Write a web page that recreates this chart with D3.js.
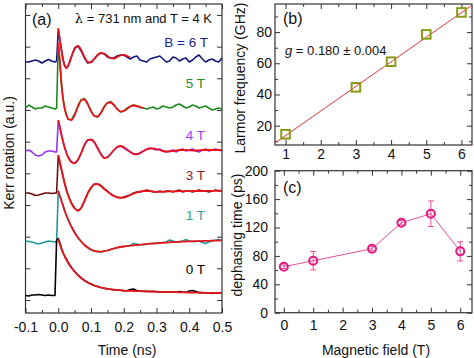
<!DOCTYPE html>
<html><head><meta charset="utf-8">
<script src="https://cdn.jsdelivr.net/npm/d3@7"></script>
<style>
body{margin:0;background:#fff}
text{font-family:"Liberation Sans",Arial,sans-serif;fill:#111}
</style>
</head><body>
<svg id="chart" width="474" height="358"></svg>
<script>
// ---------------- DATA ----------------
// Panel (a): time axis (ns) shared by all traces
const times = [-0.10,-0.09,-0.08,-0.07,-0.06,-0.05,-0.04,-0.03,-0.02,-0.01,-0.005,0,0.005,0.01,0.015,0.02,0.025,
  0.03,0.04,0.05,0.06,0.07,0.08,0.09,0.10,0.11,0.12,0.13,0.14,0.15,0.16,0.17,0.18,0.19,0.20,
  0.21,0.22,0.23,0.24,0.25,0.26,0.27,0.28,0.29,0.30,0.31,0.32,0.33,0.34,0.35,0.36,0.37,0.38,0.39,0.40,
  0.41,0.42,0.43,0.44,0.45,0.46,0.47,0.48,0.49,0.50];
const fitTimes = times.slice(11); // fits start at t = 0

const fieldLabels = ["B = 6 T","5 T","4 T","3 T","1 T","0 T"];

// Kerr rotation (a.u., traces offset vertically) measured data
const kerr6T = [238,238,239,240,239,237,239,240.5,239,238,239,270,260,250,240,234,232,
  234,243,252,254,249,242,237,238,241,245,247,246,243,242,242,244,245,245,243,241,243,244,240,239,238,
  241,242,243,244,241,238,239,243,242,239,241,242,238,240,243,245,241,238,240,241,239,238,242];
const kerr5T = [192,195,193,191,192,192,194,193,192,191,192,255,238,216,201,191,185,
  181,180,186,194,200,201.5,196,189,184,183,187,193,197,198.5,195,191,188,189,192,193.5,195,194,192.5,192,
  191,192,193,191,192,194,193,192,193,195,196,194,192,193,195,194,192,193,194,192,190,191,192,191];
const kerr4T = [149,150,148,145,144,145,148,149,149,148,148,179,172,165,158,152,147,
  143,138,137,140,147,155,160,160,158,152,146,142,143,146,150,153,154,152,150,148,146,146,147,149,151,
  152,151,150,151,149,148,149,150,148,150,151,149,150,151,149,148,150,151,149,150,151,150,149];
const kerr3T = [107,107,106,104.5,105,106,107,107,106.5,107,107,144,137,130,123,116,110,
  105,97,92,89,92,99,107,112,116,116,114,111,109,106,104,103,102,103,104,105,107,108,108,109,110,
  109,108,108,109,108,109,109,108,109,110,108,109,109,108,109,110,109,109,108,109,110,109,109];
const kerr1T = [59,58.5,58,57,56,57,58,59,58.5,58,58,109,104,99,94,89,84.5,
  80.5,73.5,67.5,62.5,58.5,55,52.5,50,49,48.5,48,49,49.5,50.5,51.5,52.5,53,53.5,54,54.5,
  56.5,56,55,55.5,56,56.5,56.5,57,57,57.5,58,60,59,58,58.5,59,60.5,59,58.5,58.5,59,57.5,56.5,58,59,60,60.5,59.5];
const kerr0T = [4.5,4,5,5,5.5,5,4.5,5,4.5,4.5,60,61.5,57,51.5,47,43.5,40.5,
  37.5,32.5,28.5,25,22,19.5,17.5,16,14.5,13.5,12.5,11.8,11,10.7,10.3,10,9.7,9.4,9.2,10.5,
  11,9.5,8.8,8.7,8.6,8.5,8.6,8.3,8.2,8.2,8.1,8,7.9,7.8,8.5,8,7.6,9,9.5,8.5,7.4,7.4,7.3,7,6.5,7,7,6.8];

// fitted curves (start at t = 0)
const fit6T = [272,260,249,240,234,232,234,243,251,254,250,243,238,237.5,241,245,247,246.5,244,242,241.5,243,244.5,245,244,242.5];
const fit5T = [257,238,215,200,191,185,181,180,185,193,200,200.5,196,189,184,183.5,187,193,197,197.5,195,191,188.5,189,191,193.5,194.5,194,193,192];
const fit4T = [180,173,165,158,152,147,143,138,136.7,140,147,155,160,160.5,158,152,146,142,142.5,146,150,153,154,153,150.5,148,146,145.7,147,149,150.5,151.5,151.7,151,150,149,148.5,148.5,149,149.5,
  150,150,150,149.7,149.5,149.5,149.7,150,150,150,150,150,150,150];
const fit3T = [145,138,130,123,116,110,105,97,91.5,89.5,92,99,106.5,112.5,115.5,116,114.5,111.5,108.5,106,104,102.7,102.3,102.5,103.5,105,106.5,107.7,108.5,109,109,108.8,108.5,108.2,
  108.2,108.3,108.5,108.6,108.7,108.7,108.8,108.8,108.9,108.9,109,109,109,109,109.1,109.1,109.2,109.2,109.3,109.3];
const fit1T = [109,104,99,94,89,84.5,80.5,73.5,67.5,62.5,58.5,55,52.5,50.5,49.2,48.5,48.4,48.8,49.5,50.5,51.5,52.3,53,53.5,53.9,54.3,54.7,55,55.3,55.6,55.9,56.2,56.5,56.7,
  57,57.2,57.5,57.7,57.9,58,58.2,58.3,58.5,58.6,58.7,58.8,58.9,59,59.1,59.2,59.3,59.4,59.5,59.6];
const fit0T = [61,56,51,47,43.5,40.5,37.5,32.5,28.5,25,22,19.5,17.5,15.8,14.5,13.4,12.5,11.8,11.2,10.7,10.3,10,9.7,9.4,
  9.2,9.1,9,8.9,8.8,8.7,8.6,8.5,8.4,8.3,8.2,8.2,8.1,8,7.9,7.8,7.7,7.7,7.6,7.5,7.4,7.4,7.3,7.2,7.2,7.1,7,7,6.9,6.8];

const timeTicks = [-0.1,0,0.1,0.2,0.3,0.4,0.5];

// Panel (b): Larmor frequency vs field
const fieldB = [1,3,4,5,6];
const larmorGHz = [14.5,44.6,61.0,78.5,92.6];
const larmorFitX = [0.7,6.3];
const larmorFitY = [8.9,97.2];
const gText = "0.180 \u00b1 0.004";
const fieldTicksB = [1,2,3,4,5,6];
const larmorTicks = [20,40,60,80];

// Panel (c): dephasing time vs field
const fieldC = [0,1,3,4,5,6];
const dephasingPs = [64.8,73.2,90.1,126.7,139.4,86.4];
const dephasingErr = [2.5,13,3,3,18,13.5];
const fieldTicksC = [0,1,2,3,4,5,6];
const dephasingTicks = [0,40,80,120,160,200];

// ---------------- DRAW ----------------
const FONT = "'Liberation Sans', Arial, sans-serif";
const svg = d3.select("#chart");
const frameColor = "#333";
const fitColor = "#e8141c";
const traceColors = ["#14147e","#1d8a1d","#9431ee","#6a0e0e","#1f9a9a","#000000"];
const labelColors = ["#1e1e8e","#2a8c2a","#9c3cf2","#8a1c1c","#2f9c9c","#000000"];
const fontTick = 14;

function frameAxes(x, y, o) {
  const g = svg.append("g");
  const [x0,x1] = x.range(), [y0,y1] = y.range();
  const mk = (axis, tr) => {
    const a = g.append("g").attr("transform", tr).call(axis);
    a.attr("font-family", FONT);
    a.select(".domain").remove();
    a.selectAll("line").attr("stroke", frameColor).attr("stroke-width", 1);
    a.selectAll("text").attr("font-size", fontTick).attr("fill","#111");
    return a;
  };
  mk(d3.axisBottom(x).tickValues(o.xMajor).tickSize(-5).tickPadding(o.xPad).tickFormat(o.xFmt), `translate(0,${y0})`);
  mk(d3.axisBottom(x).tickValues(o.xMinor).tickSize(-3).tickFormat(""), `translate(0,${y0})`);
  mk(d3.axisTop(x).tickValues(o.xMajor).tickSize(-5).tickFormat(""), `translate(0,${y1})`);
  mk(d3.axisTop(x).tickValues(o.xMinor).tickSize(-3).tickFormat(""), `translate(0,${y1})`);
  mk(d3.axisLeft(y).tickValues(o.yMajor).tickSize(-5).tickPadding(o.yPad).tickFormat(o.yFmt), `translate(${x0},0)`);
  mk(d3.axisRight(y).tickValues(o.yMajor).tickSize(-5).tickFormat(""), `translate(${x1},0)`);
  if (o.yMinor) {
    mk(d3.axisLeft(y).tickValues(o.yMinor).tickSize(-3).tickFormat(""), `translate(${x0},0)`);
    mk(d3.axisRight(y).tickValues(o.yMinor).tickSize(-3).tickFormat(""), `translate(${x1},0)`);
  }
  g.append("rect").attr("x", x0).attr("y", y1).attr("width", x1-x0).attr("height", y0-y1)
    .attr("fill","none").attr("stroke", frameColor).attr("stroke-width", 1.2);
}

// ---- Panel (a)
const xA = d3.scaleLinear([-0.1,0.5],[25.5,222]);
const yA = d3.scaleLinear([-13,296],[313,4]);
const kerrTickPos = d3.range(0, 290, 31.67);
const fmtT = d => d.toFixed(1);
frameAxes(xA, yA, {xMajor: timeTicks, xMinor: d3.range(-0.05,0.5,0.1), xPad: 9, xFmt: fmtT,
  yMajor: kerrTickPos, yPad: 0, yFmt: ""});

const dataSeries = [kerr6T,kerr5T,kerr4T,kerr3T,kerr1T,kerr0T];
const fitSeries = [fit6T,fit5T,fit4T,fit3T,fit1T,fit0T];
const lineA = d3.line().x(d => xA(d[0])).y(d => yA(d[1])).curve(d3.curveLinear);
const fitLine = d3.line().x(d => xA(d[0])).y(d => yA(d[1])).curve(d3.curveMonotoneX);
const gA = svg.append("g");
dataSeries.forEach((vals, i) => {
  gA.append("path").attr("d", lineA(vals.map((v,k)=>[times[k], v])))
    .attr("fill","none").attr("stroke", traceColors[i]).attr("stroke-width",1.6).attr("stroke-linejoin","round");
  const f = fitSeries[i];
  gA.append("path").attr("d", fitLine(f.map((v,k)=>[fitTimes[k], v])))
    .attr("fill","none").attr("stroke", fitColor).attr("stroke-width",1.8).attr("stroke-linejoin","round");
});
const labelBaseY = [47, 88, 140, 180, 220, 274];
fieldLabels.forEach((t,i) => {
  svg.append("text").attr("x", i===0 ? 208 : 205).attr("y", labelBaseY[i]).attr("text-anchor","end")
    .attr("font-size", 13.5).style("fill", labelColors[i]).text(t);
});
svg.append("text").attr("x", 32).attr("y", 25).attr("font-size", 16).text("(a)");
svg.append("text").attr("x", 212).attr("y", 23).attr("text-anchor","end").attr("font-size", 13)
  .html('<tspan font-family="DejaVu Serif, serif">\u03bb</tspan> = 731 nm and T = 4 K');
svg.append("text").attr("x", 127).attr("y", 355).attr("text-anchor","middle").attr("font-size",14).text("Time (ns)");
svg.append("text").attr("transform","translate(14,153) rotate(-90)").attr("text-anchor","middle").attr("font-size",14).text("Kerr rotation (a.u.)");

// ---- Panel (b)
const xB = d3.scaleLinear([0.7,6.3],[275,472]);
const yB = d3.scaleLinear([7.6,98],[145,4]);
frameAxes(xB, yB, {xMajor: fieldTicksB, xMinor: d3.range(1.5,6.3,1), xPad: 4, xFmt: d3.format("d"),
  yMajor: larmorTicks, yMinor: [10,30,50,70,90], yPad: 3, yFmt: d3.format("d")});
svg.append("path").attr("d", d3.line()(larmorFitX.map((v,k)=>[xB(v), yB(larmorFitY[k])])))
  .attr("stroke","#e8333a").attr("stroke-width",1).attr("fill","none");
svg.append("g").selectAll("rect").data(fieldB).join("rect")
  .attr("x", (d,i)=>xB(d)-4.3).attr("y",(d,i)=>yB(larmorGHz[i])-4.3).attr("width",8.6).attr("height",8.6)
  .attr("fill","none").attr("stroke","#8b9a14").attr("stroke-width",2);
svg.append("text").attr("x", 283).attr("y", 24).attr("font-size",16).text("(b)");
svg.append("text").attr("x", 285).attr("y", 55).attr("font-size",13)
  .html('<tspan font-style="italic">g</tspan> = ' + gText);
svg.append("text").attr("transform","translate(245,78) rotate(-90)").attr("text-anchor","middle").attr("font-size",14).text("Larmor frequency (GHz)");

// ---- Panel (c)
const xC = d3.scaleLinear([-0.3,6.4],[275,472]);
const yC = d3.scaleLinear([0,200],[312.7,170.7]);
frameAxes(xC, yC, {xMajor: fieldTicksC, xMinor: d3.range(0.5,6.4,1), xPad: 7, xFmt: d3.format("d"),
  yMajor: dephasingTicks, yMinor: [20,60,100,140,180], yPad: 7, yFmt: d3.format("d")});
const pink = "#e3197f";
svg.append("path").attr("d", d3.line()(fieldC.map((v,k)=>[xC(v), yC(dephasingPs[k])])))
  .attr("stroke","#e8509a").attr("stroke-width",1).attr("fill","none");
const gE = svg.append("g").attr("stroke","#e8509a").attr("stroke-width",1);
fieldC.forEach((f,k) => {
  const x = xC(f), yt = yC(dephasingPs[k]+dephasingErr[k]), yb = yC(dephasingPs[k]-dephasingErr[k]);
  gE.append("line").attr("x1",x).attr("x2",x).attr("y1",yt).attr("y2",yb);
  gE.append("line").attr("x1",x-3).attr("x2",x+3).attr("y1",yt).attr("y2",yt);
  gE.append("line").attr("x1",x-3).attr("x2",x+3).attr("y1",yb).attr("y2",yb);
});
svg.append("g").selectAll("circle").data(fieldC).join("circle")
  .attr("cx", d=>xC(d)).attr("cy",(d,i)=>yC(dephasingPs[i])).attr("r",4)
  .attr("fill","none").attr("stroke",pink).attr("stroke-width",2);
svg.append("text").attr("x", 283).attr("y", 193).attr("font-size",16).text("(c)");
svg.append("text").attr("transform","translate(242,235) rotate(-90)").attr("text-anchor","middle").attr("font-size",14).text("dephasing time (ps)");
svg.append("text").attr("x", 376).attr("y", 355).attr("text-anchor","middle").attr("font-size",14).text("Magnetic field (T)");
</script>
</body></html>
